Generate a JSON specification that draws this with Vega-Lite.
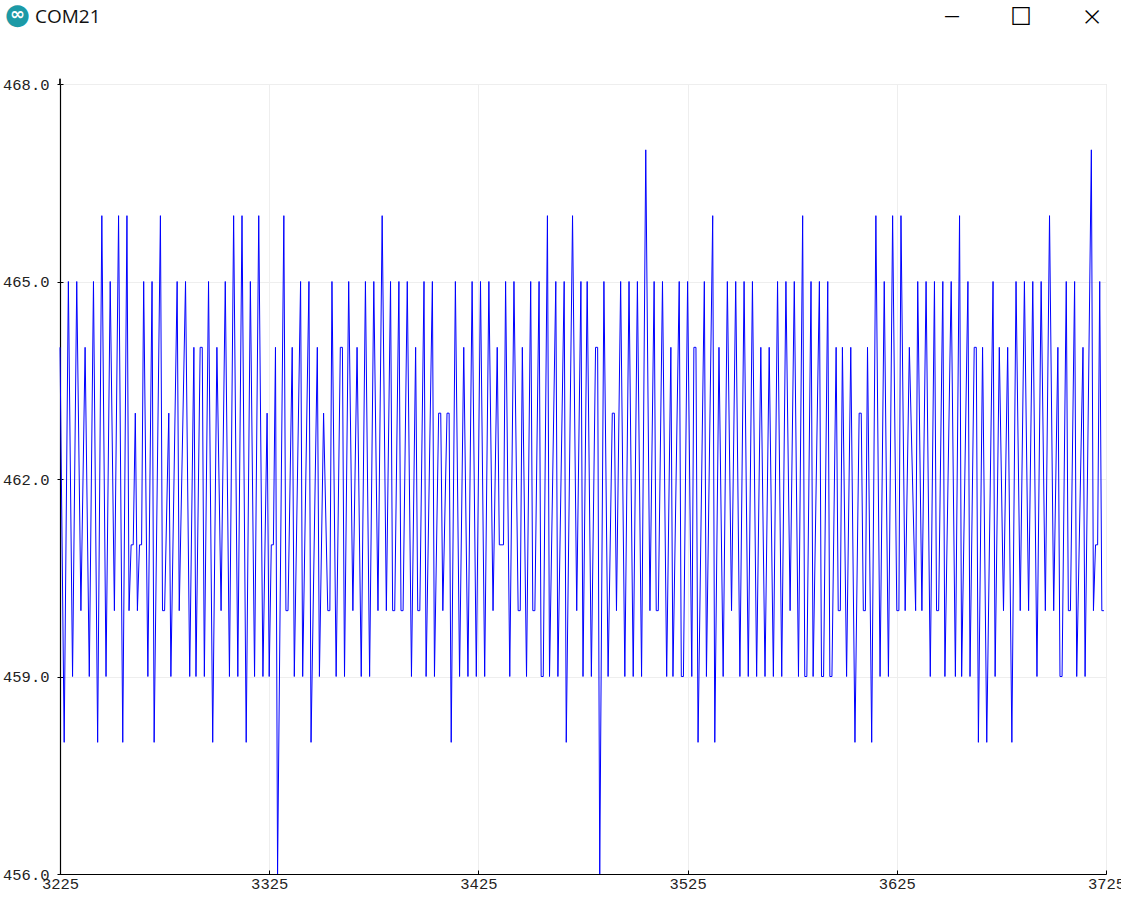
{"$schema":"https://vega.github.io/schema/vega-lite/v6.json","autosize":"none","width":1046,"height":790,"padding":{"left":60,"top":84,"right":15,"bottom":37},"background":"white",
"title":{"text":"COM21","anchor":"start","frame":"group","dx":-25,"offset":-27,"font":"Open Sans","fontSize":19,"fontWeight":"normal","color":"#111111"},
"datasets":{"axisTop":[{"x":3225,"y":468,"y2":468.08}],"serial":[{"x":3225,"y":464},{"x":3227,"y":458},{"x":3229,"y":465},{"x":3231,"y":459},{"x":3233,"y":465},{"x":3235,"y":460},{"x":3237,"y":464},{"x":3239,"y":459},{"x":3241,"y":465},{"x":3243,"y":458},{"x":3245,"y":466},{"x":3247,"y":459},{"x":3249,"y":465},{"x":3251,"y":460},{"x":3253,"y":466},{"x":3255,"y":458},{"x":3257,"y":466},{"x":3258,"y":460},{"x":3259,"y":461},{"x":3260,"y":461},{"x":3261,"y":463},{"x":3262,"y":460},{"x":3263,"y":461},{"x":3264,"y":461},{"x":3265,"y":465},{"x":3267,"y":459},{"x":3269,"y":465},{"x":3270,"y":458},{"x":3273,"y":466},{"x":3274,"y":460},{"x":3275,"y":460},{"x":3277,"y":463},{"x":3278,"y":459},{"x":3281,"y":465},{"x":3282,"y":460},{"x":3285,"y":465},{"x":3287,"y":459},{"x":3289,"y":464},{"x":3290,"y":459},{"x":3292,"y":464},{"x":3293,"y":464},{"x":3294,"y":459},{"x":3296,"y":465},{"x":3298,"y":458},{"x":3300,"y":464},{"x":3302,"y":460},{"x":3304,"y":465},{"x":3306,"y":459},{"x":3308,"y":466},{"x":3310,"y":459},{"x":3312,"y":466},{"x":3314,"y":458},{"x":3316,"y":465},{"x":3318,"y":459},{"x":3320,"y":466},{"x":3322,"y":459},{"x":3324,"y":463},{"x":3325,"y":459},{"x":3326,"y":461},{"x":3327,"y":461},{"x":3328,"y":464},{"x":3329,"y":456},{"x":3332,"y":466},{"x":3333,"y":460},{"x":3334,"y":460},{"x":3336,"y":464},{"x":3337,"y":459},{"x":3340,"y":465},{"x":3341,"y":459},{"x":3344,"y":465},{"x":3345,"y":458},{"x":3348,"y":464},{"x":3349,"y":459},{"x":3351,"y":463},{"x":3353,"y":460},{"x":3354,"y":460},{"x":3355,"y":465},{"x":3357,"y":459},{"x":3359,"y":464},{"x":3360,"y":464},{"x":3361,"y":459},{"x":3363,"y":465},{"x":3365,"y":460},{"x":3367,"y":464},{"x":3369,"y":459},{"x":3371,"y":465},{"x":3373,"y":459},{"x":3375,"y":465},{"x":3377,"y":460},{"x":3379,"y":466},{"x":3381,"y":460},{"x":3383,"y":465},{"x":3384,"y":460},{"x":3385,"y":460},{"x":3387,"y":465},{"x":3388,"y":460},{"x":3389,"y":460},{"x":3391,"y":465},{"x":3393,"y":459},{"x":3395,"y":464},{"x":3396,"y":460},{"x":3397,"y":460},{"x":3399,"y":465},{"x":3400,"y":459},{"x":3403,"y":465},{"x":3404,"y":459},{"x":3406,"y":463},{"x":3407,"y":463},{"x":3408,"y":460},{"x":3410,"y":463},{"x":3411,"y":463},{"x":3412,"y":458},{"x":3414,"y":465},{"x":3416,"y":459},{"x":3418,"y":464},{"x":3420,"y":459},{"x":3422,"y":465},{"x":3424,"y":459},{"x":3426,"y":465},{"x":3428,"y":459},{"x":3430,"y":465},{"x":3432,"y":460},{"x":3434,"y":464},{"x":3435,"y":461},{"x":3437,"y":461},{"x":3438,"y":465},{"x":3440,"y":459},{"x":3442,"y":465},{"x":3444,"y":460},{"x":3445,"y":460},{"x":3446,"y":464},{"x":3448,"y":459},{"x":3450,"y":465},{"x":3451,"y":460},{"x":3452,"y":460},{"x":3454,"y":465},{"x":3455,"y":459},{"x":3456,"y":459},{"x":3458,"y":466},{"x":3459,"y":459},{"x":3462,"y":465},{"x":3463,"y":459},{"x":3466,"y":465},{"x":3467,"y":458},{"x":3470,"y":466},{"x":3472,"y":460},{"x":3474,"y":465},{"x":3475,"y":459},{"x":3477,"y":465},{"x":3479,"y":459},{"x":3481,"y":464},{"x":3482,"y":464},{"x":3483,"y":456},{"x":3485,"y":465},{"x":3487,"y":459},{"x":3489,"y":463},{"x":3490,"y":463},{"x":3491,"y":460},{"x":3493,"y":465},{"x":3495,"y":459},{"x":3497,"y":465},{"x":3499,"y":459},{"x":3501,"y":465},{"x":3503,"y":459},{"x":3505,"y":467},{"x":3507,"y":460},{"x":3509,"y":465},{"x":3510,"y":460},{"x":3511,"y":460},{"x":3513,"y":465},{"x":3515,"y":459},{"x":3517,"y":464},{"x":3518,"y":459},{"x":3521,"y":465},{"x":3522,"y":459},{"x":3523,"y":459},{"x":3525,"y":465},{"x":3527,"y":459},{"x":3528,"y":464},{"x":3529,"y":464},{"x":3530,"y":458},{"x":3533,"y":465},{"x":3534,"y":459},{"x":3537,"y":466},{"x":3538,"y":458},{"x":3540,"y":464},{"x":3542,"y":459},{"x":3544,"y":465},{"x":3546,"y":460},{"x":3548,"y":465},{"x":3550,"y":459},{"x":3552,"y":465},{"x":3554,"y":459},{"x":3556,"y":465},{"x":3558,"y":459},{"x":3560,"y":464},{"x":3562,"y":459},{"x":3564,"y":464},{"x":3566,"y":459},{"x":3568,"y":465},{"x":3570,"y":459},{"x":3572,"y":465},{"x":3574,"y":460},{"x":3576,"y":465},{"x":3578,"y":459},{"x":3580,"y":466},{"x":3581,"y":459},{"x":3582,"y":459},{"x":3584,"y":465},{"x":3585,"y":459},{"x":3588,"y":465},{"x":3589,"y":459},{"x":3590,"y":459},{"x":3592,"y":465},{"x":3593,"y":459},{"x":3594,"y":459},{"x":3596,"y":464},{"x":3597,"y":460},{"x":3598,"y":460},{"x":3599,"y":464},{"x":3601,"y":459},{"x":3603,"y":464},{"x":3605,"y":458},{"x":3607,"y":463},{"x":3608,"y":463},{"x":3609,"y":460},{"x":3610,"y":460},{"x":3611,"y":464},{"x":3613,"y":458},{"x":3615,"y":466},{"x":3617,"y":459},{"x":3619,"y":465},{"x":3621,"y":459},{"x":3623,"y":466},{"x":3625,"y":460},{"x":3626,"y":460},{"x":3627,"y":466},{"x":3629,"y":460},{"x":3631,"y":464},{"x":3634,"y":460},{"x":3635,"y":465},{"x":3637,"y":460},{"x":3639,"y":465},{"x":3641,"y":459},{"x":3643,"y":465},{"x":3644,"y":460},{"x":3645,"y":460},{"x":3647,"y":465},{"x":3648,"y":459},{"x":3651,"y":465},{"x":3653,"y":459},{"x":3655,"y":466},{"x":3656,"y":459},{"x":3659,"y":465},{"x":3660,"y":459},{"x":3662,"y":464},{"x":3663,"y":464},{"x":3664,"y":458},{"x":3666,"y":464},{"x":3668,"y":458},{"x":3671,"y":465},{"x":3672,"y":459},{"x":3674,"y":464},{"x":3676,"y":460},{"x":3678,"y":464},{"x":3680,"y":458},{"x":3682,"y":465},{"x":3684,"y":460},{"x":3686,"y":465},{"x":3688,"y":460},{"x":3690,"y":465},{"x":3692,"y":459},{"x":3694,"y":465},{"x":3696,"y":460},{"x":3698,"y":466},{"x":3700,"y":460},{"x":3702,"y":464},{"x":3703,"y":459},{"x":3704,"y":459},{"x":3706,"y":465},{"x":3707,"y":460},{"x":3708,"y":460},{"x":3710,"y":465},{"x":3711,"y":459},{"x":3714,"y":464},{"x":3715,"y":459},{"x":3718,"y":467},{"x":3719,"y":460},{"x":3720,"y":461},{"x":3721,"y":461},{"x":3722,"y":465},{"x":3723,"y":460},{"x":3724,"y":460}]},
"resolve":{"axis":{"x":"independent","y":"independent"},"scale":{"x":"shared","y":"shared"}},
"layer":[
{"data":{"name":"serial"},"mark":{"type":"line","color":"#0000ff","strokeWidth":1,"interpolate":"linear","clip":false},
"encoding":{"x":{"field":"x","type":"quantitative","title":"—","scale":{"domain":[3225,3725],"nice":false,"zero":false},"axis":{"orient":"bottom","values":[3225,3325,3425,3525,3625,3725],"format":"d","grid":true,"gridColor":"#eeeeee","gridWidth":1,"domainColor":"#000000","domainWidth":1.2,"tickColor":"#000000","tickSize":-4,"tickWidth":1,"labelFont":"Liberation Mono","labelFontSize":15.5,"labelColor":"#222222","labelPadding":6,"labelFlush":false,"labelOverlap":false,"titleX":891.5,"titleY":-859,"titleFont":"DejaVu Sans","titleFontSize":15.5,"titleFontWeight":"normal","titleColor":"#000000","titleAlign":"center","titleBaseline":"middle"}},
"y":{"field":"y","type":"quantitative","title":"●","scale":{"domain":[456,468],"nice":false,"zero":false},"axis":{"orient":"left","values":[456,459,462,465,468],"format":".1f","grid":true,"gridColor":"#eeeeee","gridWidth":1,"domainColor":"#000000","domainWidth":1.2,"tickColor":"#000000","tickSize":3,"tickWidth":1,"labelFont":"Liberation Mono","labelFontSize":15.5,"labelColor":"#222222","labelPadding":8,"labelOverlap":false,"labelFlush":false,"titleX":-43,"titleY":-70,"titleAngle":0,"titleFont":"DejaVu Sans","titleFontSize":29,"titleFontWeight":"normal","titleColor":"#1c9aa6","titleAlign":"center","titleBaseline":"middle"}}}},
{"data":{"name":"axisTop"},"mark":{"type":"rule","color":"#000000","strokeWidth":1.2,"clip":false},
"encoding":{"x":{"field":"x","type":"quantitative","title":"□","axis":{"orient":"top","values":[],"grid":false,"domain":false,"ticks":false,"labels":false,"titleX":960.5,"titleY":-70,"titleFont":"DejaVu Sans","titleFontSize":23,"titleFontWeight":"normal","titleColor":"#000000","titleAlign":"center","titleBaseline":"middle"}},
"y":{"field":"y","type":"quantitative","title":"∞","axis":{"orient":"left","values":[456,459,462,465,468],"grid":false,"domain":false,"labels":false,"tickColor":"#000000","tickSize":-3,"tickWidth":1,"titleX":-43,"titleY":-70,"titleAngle":0,"titleFont":"DejaVu Sans","titleFontSize":18,"titleFontWeight":"bold","titleColor":"#ffffff","titleAlign":"center","titleBaseline":"middle"}},"y2":{"field":"y2"}}},
{"data":{"name":"axisTop"},"mark":{"type":"rule","color":"#000000","strokeWidth":1.2,"clip":false},
"encoding":{"x":{"field":"x","type":"quantitative","title":"×","axis":{"orient":"top","values":[],"grid":false,"domain":false,"ticks":false,"labels":false,"titleX":1031.5,"titleY":-67,"titleFont":"Open Sans","titleFontSize":32,"titleFontWeight":300,"titleColor":"#000000","titleAlign":"center","titleBaseline":"middle"}},
"y":{"field":"y","type":"quantitative","axis":null},"y2":{"field":"y2"}}}
]}
